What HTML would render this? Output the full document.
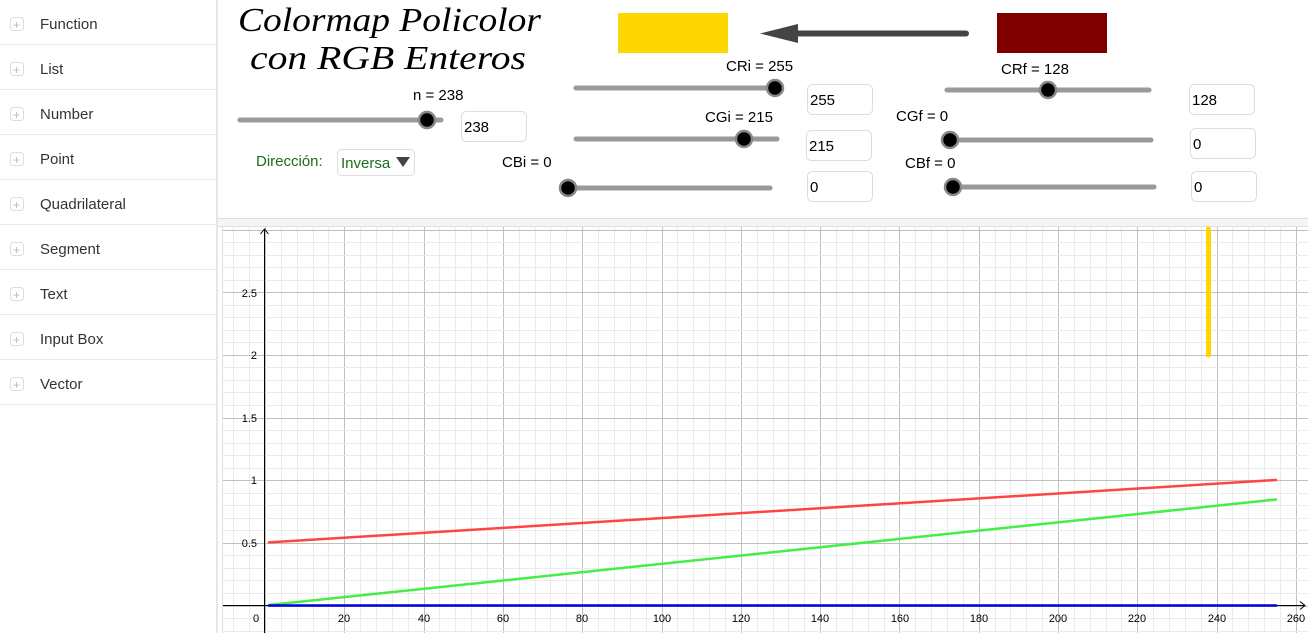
<!DOCTYPE html>
<html><head><meta charset="utf-8"><style>
html,body{margin:0;padding:0;background:#fff;width:1308px;height:633px;overflow:hidden;font-family:"Liberation Sans",sans-serif}
</style></head><body>
<svg width="1308" height="633" xmlns="http://www.w3.org/2000/svg" font-family="Liberation Sans, sans-serif">
<rect x="0" y="0" width="216" height="633" fill="#fff"/>
<rect x="216" y="0" width="2" height="633" fill="#e6e6e6"/>
<g stroke="#e8e8e8" stroke-width="1">
<line x1="0" y1="44.5" x2="216" y2="44.5"/><line x1="0" y1="89.5" x2="216" y2="89.5"/><line x1="0" y1="134.5" x2="216" y2="134.5"/><line x1="0" y1="179.5" x2="216" y2="179.5"/><line x1="0" y1="224.5" x2="216" y2="224.5"/><line x1="0" y1="269.5" x2="216" y2="269.5"/><line x1="0" y1="314.5" x2="216" y2="314.5"/><line x1="0" y1="359.5" x2="216" y2="359.5"/><line x1="0" y1="404.5" x2="216" y2="404.5"/>
</g>
<g fill="none" stroke="#ddd"><rect x="10.5" y="17.5" width="13" height="13" rx="3"/><rect x="10.5" y="62.5" width="13" height="13" rx="3"/><rect x="10.5" y="107.5" width="13" height="13" rx="3"/><rect x="10.5" y="152.5" width="13" height="13" rx="3"/><rect x="10.5" y="197.5" width="13" height="13" rx="3"/><rect x="10.5" y="242.5" width="13" height="13" rx="3"/><rect x="10.5" y="287.5" width="13" height="13" rx="3"/><rect x="10.5" y="332.5" width="13" height="13" rx="3"/><rect x="10.5" y="377.5" width="13" height="13" rx="3"/></g>
<g fill="#bbb" font-size="12"><text x="13" y="29">+</text><text x="13" y="74">+</text><text x="13" y="119">+</text><text x="13" y="164">+</text><text x="13" y="209">+</text><text x="13" y="254">+</text><text x="13" y="299">+</text><text x="13" y="344">+</text><text x="13" y="389">+</text></g>
<g fill="#333" font-size="15"><text x="40" y="29">Function</text><text x="40" y="74">List</text><text x="40" y="119">Number</text><text x="40" y="164">Point</text><text x="40" y="209">Quadrilateral</text><text x="40" y="254">Segment</text><text x="40" y="299">Text</text><text x="40" y="344">Input Box</text><text x="40" y="389">Vector</text></g>

<text x="238" y="31" font-family="Liberation Serif, serif" font-style="italic" font-size="34" fill="#000" textLength="303" lengthAdjust="spacingAndGlyphs">Colormap Policolor</text>
<text x="250" y="69" font-family="Liberation Serif, serif" font-style="italic" font-size="34" fill="#000" textLength="276" lengthAdjust="spacingAndGlyphs">con RGB Enteros</text>
<rect x="618" y="13" width="110" height="40" fill="#ffd700"/>
<rect x="997" y="13" width="110" height="40" fill="#800000"/>
<line x1="795" y1="33.5" x2="966" y2="33.5" stroke="#444" stroke-width="6" stroke-linecap="round"/>
<polygon points="760,33.5 798,24 798,43" fill="#444"/>

<g stroke="#999" stroke-width="5" stroke-linecap="round">
<line x1="240" y1="120" x2="441" y2="120"/>
<line x1="576" y1="88" x2="777" y2="88"/>
<line x1="576" y1="139" x2="777" y2="139"/>
<line x1="569" y1="188" x2="770" y2="188"/>
<line x1="947" y1="90" x2="1149" y2="90"/>
<line x1="950" y1="140" x2="1151" y2="140"/>
<line x1="953" y1="187" x2="1154" y2="187"/>
</g>
<g fill="#000" stroke="#888" stroke-width="2.5">
<circle cx="427" cy="120" r="8"/><circle cx="775" cy="88" r="8"/><circle cx="744" cy="139" r="8"/><circle cx="568" cy="188" r="8"/><circle cx="1048" cy="90" r="8"/><circle cx="950" cy="140" r="8"/><circle cx="953" cy="187" r="8"/>
</g>
<g font-size="15" fill="#000">
<text x="413" y="100">n = 238</text>
<text x="726" y="71">CRi = 255</text>
<text x="705" y="122">CGi = 215</text>
<text x="502" y="167">CBi = 0</text>
<text x="1001" y="74">CRf = 128</text>
<text x="896" y="121">CGf = 0</text>
<text x="905" y="168">CBf = 0</text>
</g>
<g fill="#fff" stroke="#ddd" stroke-width="1">
<rect x="461.5" y="111.5" width="65" height="30" rx="5"/>
<rect x="807.5" y="84.5" width="65" height="30" rx="5"/>
<rect x="806.5" y="130.5" width="65" height="30" rx="5"/>
<rect x="807.5" y="171.5" width="65" height="30" rx="5"/>
<rect x="1189.5" y="84.5" width="65" height="30" rx="5"/>
<rect x="1190.5" y="128.5" width="65" height="30" rx="5"/>
<rect x="1191.5" y="171.5" width="65" height="30" rx="5"/>
<rect x="337.5" y="149.5" width="77" height="26" rx="4"/>
</g>
<g font-size="15" fill="#000">
<text x="464" y="132">238</text><text x="810" y="105">255</text><text x="809" y="151">215</text><text x="810" y="192">0</text>
<text x="1192" y="105">128</text><text x="1193" y="149">0</text><text x="1194" y="192">0</text>
</g>
<text x="256" y="166" font-size="15" fill="#1a6e1a">Dirección:</text>
<text x="341" y="168" font-size="15" fill="#1a6e1a">Inversa</text>
<polygon points="396,157 410,157 403,167" fill="#444"/>

<rect x="218" y="218" width="1090" height="8" fill="#f5f5f5"/>
<line x1="218" y1="218.5" x2="1308" y2="218.5" stroke="#ddd"/>
<line x1="218" y1="226.5" x2="1308" y2="226.5" stroke="#e0e0e0"/>
<line x1="222.5" y1="226" x2="222.5" y2="633" stroke="#e0e0e0"/>

<svg x="223" y="227" width="1085" height="406" overflow="hidden">
<g transform="translate(-223,-227)">
<g id="grid" stroke-width="1"></g>
</g>
</svg>
<script>
(function(){
var ns="http://www.w3.org/2000/svg",g=document.getElementById("grid");
var ox=265,oy=605.5,sx=3.965,sy=125.3;
function L(x1,y1,x2,y2,c){var l=document.createElementNS(ns,"line");l.setAttribute("x1",x1);l.setAttribute("y1",y1);l.setAttribute("x2",x2);l.setAttribute("y2",y2);l.setAttribute("stroke",c);g.appendChild(l);}
for(var k=-12;k<=265;k+=4){var x=Math.round(ox+k*sx)+0.5;L(x,227,x,633,k%20==0?"#c0c0c0":"#ebebeb");}
for(var k=-3;k<=32;k++){var y=Math.round(oy-k*0.1*sy)+0.5;L(223,y,1308,y,k%5==0?"#c0c0c0":"#ebebeb");}
})();
</script>
<g fill="#000" font-size="11">
<text x="253" y="622">0</text>
<text x="344" y="622" text-anchor="middle">20</text>
<text x="424" y="622" text-anchor="middle">40</text>
<text x="503" y="622" text-anchor="middle">60</text>
<text x="582" y="622" text-anchor="middle">80</text>
<text x="662" y="622" text-anchor="middle">100</text>
<text x="741" y="622" text-anchor="middle">120</text>
<text x="820" y="622" text-anchor="middle">140</text>
<text x="900" y="622" text-anchor="middle">160</text>
<text x="979" y="622" text-anchor="middle">180</text>
<text x="1058" y="622" text-anchor="middle">200</text>
<text x="1137" y="622" text-anchor="middle">220</text>
<text x="1217" y="622" text-anchor="middle">240</text>
<text x="1296" y="622" text-anchor="middle">260</text>
<text x="257" y="547" text-anchor="end">0.5</text>
<text x="257" y="484" text-anchor="end">1</text>
<text x="257" y="422" text-anchor="end">1.5</text>
<text x="257" y="359" text-anchor="end">2</text>
<text x="257" y="297" text-anchor="end">2.5</text>
</g>
<line x1="264.5" y1="229" x2="264.5" y2="633" stroke="#000"/>
<polyline points="260.5,234 264.5,229 268.5,234" fill="none" stroke="#000"/>
<line x1="223" y1="605.5" x2="1305" y2="605.5" stroke="#000"/>
<polyline points="1300,601.5 1305,605.5 1300,609.5" fill="none" stroke="#000"/>
<g stroke-width="2.5" stroke-linecap="round" fill="none">
<line x1="269" y1="542.4" x2="1276" y2="480" stroke="#ff4444"/>
<line x1="269" y1="605" x2="1276" y2="499.5" stroke="#44ee44"/>
<line x1="269" y1="605.5" x2="1276" y2="605.5" stroke="#0000dd"/>
<line x1="1208.5" y1="229" x2="1208.5" y2="355" stroke="#ffd700" stroke-width="5"/>
</g>
</svg>
</body></html>
